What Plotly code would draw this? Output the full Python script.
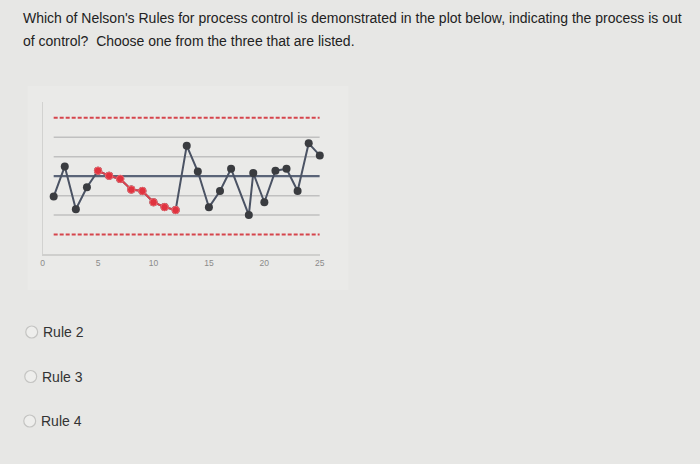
import plotly.graph_objects as go

W, H = 700, 464

# chart values (in sigma units around the centre line)
sample_x = [1, 2, 3, 4, 5, 6, 7, 8, 9, 10, 11, 12, 13, 14, 15, 16, 17, 18.6, 19, 20, 21, 22, 23, 24, 25]
sample_y = [-1.05, 0.5, -1.7, -0.57, 0.28, 0.02, -0.14, -0.69, -0.76, -1.34, -1.59, -1.74,
            1.57, 0.24, -1.6, -0.76, 0.38, -2.0, 0.16, -1.34, 0.28, 0.38, -0.76, 1.69, 1.07]
trend_start, trend_end = 4, 12   # index range of the red run (points 5..12)

centre = 0
sigma_lines = [-2, -1, 1, 2]
control_limits = [-3, 3]
line_x = [1, 25]
tick_vals = [0, 5, 10, 15, 20, 25]

question = ["Which of Nelson's Rules for process control is demonstrated in the plot below, indicating the process is out",
            "of control?  Choose one from the three that are listed."]
options = ["Rule 2", "Rule 3", "Rule 4"]


def px(x):
    return x / W


def py(y):
    return 1 - y / H


fig = go.Figure()

for s in sigma_lines:
    fig.add_scatter(x=line_x, y=[s, s], mode="lines",
                    line=dict(color="#c0c0c0", width=1.5), hoverinfo="skip")
for c in control_limits:
    fig.add_scatter(x=line_x, y=[c, c], mode="lines",
                    line=dict(color="#d6454c", width=2, dash="4px,2px"), hoverinfo="skip")
fig.add_scatter(x=line_x, y=[centre, centre], mode="lines",
                line=dict(color="#5a6478", width=2.2), hoverinfo="skip")

fig.add_scatter(x=sample_x, y=sample_y, mode="lines+markers", cliponaxis=False,
                line=dict(color="#4b5364", width=2),
                marker=dict(color="#3a3c40", size=8))
fig.add_scatter(x=sample_x[trend_start:trend_end], y=sample_y[trend_start:trend_end],
                mode="lines+markers", cliponaxis=False,
                line=dict(color="#d8434e", width=2),
                marker=dict(color="#e0333f", size=7.5, line=dict(color="#ec6a72", width=1)))

fig.update_xaxes(domain=[px(41), px(321)], range=[0, 25], tickvals=tick_vals,
                 showgrid=False, zeroline=False, showline=True, linecolor="#cfcfcd",
                 linewidth=1.5, ticks="", tickfont=dict(family="Liberation Sans", size=8.5, color="#8a8a8a"))
fig.update_yaxes(domain=[py(254), py(101.7)], range=[-4, 3.83], showticklabels=False,
                 showgrid=False, zeroline=False, showline=True, linecolor="#d2d2d0", linewidth=1.2)

fig.add_shape(type="rect", xref="paper", yref="paper", x0=px(26), x1=px(350), y0=py(290), y1=py(86),
              fillcolor="#eaeae8", line=dict(width=0), layer="below")

fig.add_annotation(text=question[0], x=px(19), y=py(18), xref="paper", yref="paper",
                   xanchor="left", yanchor="middle", showarrow=False,
                   font=dict(family="Liberation Sans", size=14, color="#222222"))
fig.add_annotation(text=question[1], x=px(19), y=py(41), xref="paper", yref="paper",
                   xanchor="left", yanchor="middle", showarrow=False,
                   font=dict(family="Liberation Sans", size=14, color="#222222"))

for i, opt in enumerate(options):
    yc = 332 + i * 44.5
    xc = 30 - i * 1
    fig.add_shape(type="circle", xref="paper", yref="paper",
                  x0=px(xc - 6), x1=px(xc + 6), y0=py(yc + 6), y1=py(yc - 6),
                  line=dict(color="#c4c4c2", width=1.2), fillcolor="#eeeeec")
    fig.add_annotation(text=opt, x=px(xc + 9), y=py(yc), xref="paper", yref="paper",
                       xanchor="left", yanchor="middle", showarrow=False,
                       font=dict(family="Liberation Sans", size=14, color="#333333"))

fig.update_layout(width=W, height=H, margin=dict(l=0, r=0, t=0, b=0),
                  paper_bgcolor="#e7e7e5", plot_bgcolor="#eaeae8", showlegend=False)

fig.write_html("out.html", config={"displayModeBar": False},
               post_script="document.body.style.margin='0';")
